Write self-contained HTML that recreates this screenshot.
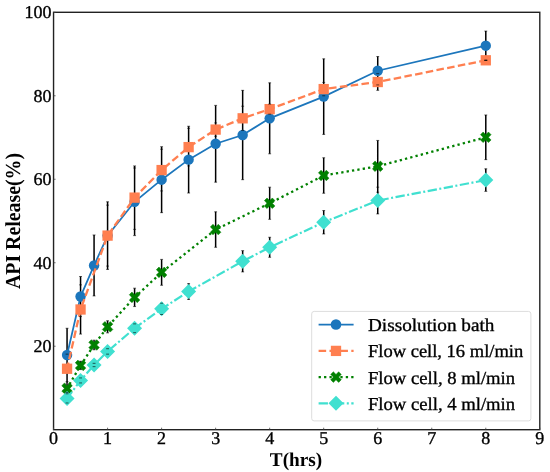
<!DOCTYPE html><html><head><meta charset="utf-8"><style>html,body{margin:0;padding:0;background:#fff;}svg{display:block;filter:blur(0.25px);}text{text-rendering:geometricPrecision;font-family:"Liberation Serif",serif;fill:#000;}.tl{stroke:#000;stroke-width:0.35px;}</style></head><body>
<svg width="550" height="472" viewBox="0 0 550 472">
<rect width="550" height="472" fill="#fff"/>
<path d="M67.06 381.7V328.27M80.56 316.58V276.51M94.07 295.92V234.98M107.58 269.42V201.8M134.59 235.61V167.99M161.61 212.65V146.7M188.62 193.03V126.25M215.64 182.18V105.38M242.66 179.68V90.35M269.67 153.8V82.84M323.7 134.39V58.84M377.73 84.93V56.54M485.79 60.3V31.08M67.06 383.37V354.15M80.56 334.12V284.86M107.58 266.08V205.14M134.59 229.35V165.9M161.61 190.95V149.21M188.62 165.9V128.34M215.64 136.27V122.91M242.66 130.42V106.21M269.67 114.15V104.13M323.7 95.78V82.42M377.73 90.35V73.66M485.79 60.3V60.3M67.06 392.55V384.2M80.56 369.59V361.25M94.07 349.77V340.17M107.58 332.86V320.76M134.59 306.57V288.2M161.61 285.28V259.4M215.64 247.3V211.82M269.67 219.33V187.19M323.7 193.24V157.76M377.73 192.2V140.44M485.79 159.64V114.98M67.06 402.99V393.8M80.56 382.95V377.94M94.07 366.67V363.33M107.58 354.15V348.72M134.59 332.65V323.89M161.61 314.5V303.23M188.62 299.47V283.61M242.66 271.92V250.64M269.67 257.31V237.28M323.7 233.94V210.56M377.73 213.9V187.19M485.79 191.36V168.82" stroke="#000" stroke-width="1.5" fill="none"/>
<polyline points="67.06,354.99 80.56,296.55 94.07,265.45 107.58,235.61 134.59,201.8 161.61,179.68 188.62,159.64 215.64,143.78 242.66,135.02 269.67,118.32 323.7,96.61 377.73,70.74 485.79,45.69" fill="none" stroke="#1c76bc" stroke-width="1.75"/>
<circle cx="67.06" cy="354.99" r="5.2" fill="#1c76bc"/>
<circle cx="80.56" cy="296.55" r="5.2" fill="#1c76bc"/>
<circle cx="94.07" cy="265.45" r="5.2" fill="#1c76bc"/>
<circle cx="107.58" cy="235.61" r="5.2" fill="#1c76bc"/>
<circle cx="134.59" cy="201.8" r="5.2" fill="#1c76bc"/>
<circle cx="161.61" cy="179.68" r="5.2" fill="#1c76bc"/>
<circle cx="188.62" cy="159.64" r="5.2" fill="#1c76bc"/>
<circle cx="215.64" cy="143.78" r="5.2" fill="#1c76bc"/>
<circle cx="242.66" cy="135.02" r="5.2" fill="#1c76bc"/>
<circle cx="269.67" cy="118.32" r="5.2" fill="#1c76bc"/>
<circle cx="323.7" cy="96.61" r="5.2" fill="#1c76bc"/>
<circle cx="377.73" cy="70.74" r="5.2" fill="#1c76bc"/>
<circle cx="485.79" cy="45.69" r="5.2" fill="#1c76bc"/>
<polyline points="67.06,368.76 80.56,309.49 107.58,235.61 134.59,197.63 161.61,170.08 188.62,147.12 215.64,129.59 242.66,118.32 269.67,109.14 323.7,89.1 377.73,82.01 485.79,60.3" fill="none" stroke="#ff7f50" stroke-width="2.3" stroke-dasharray="7.55 3.35" stroke-dashoffset="1.07"/>
<rect x="61.91" y="363.61" width="10.3" height="10.3" fill="#ff7f50"/>
<rect x="75.41" y="304.34" width="10.3" height="10.3" fill="#ff7f50"/>
<rect x="102.43" y="230.46" width="10.3" height="10.3" fill="#ff7f50"/>
<rect x="129.44" y="192.48" width="10.3" height="10.3" fill="#ff7f50"/>
<rect x="156.46" y="164.93" width="10.3" height="10.3" fill="#ff7f50"/>
<rect x="183.47" y="141.97" width="10.3" height="10.3" fill="#ff7f50"/>
<rect x="210.49" y="124.44" width="10.3" height="10.3" fill="#ff7f50"/>
<rect x="237.51" y="113.17" width="10.3" height="10.3" fill="#ff7f50"/>
<rect x="264.52" y="103.99" width="10.3" height="10.3" fill="#ff7f50"/>
<rect x="318.55" y="83.95" width="10.3" height="10.3" fill="#ff7f50"/>
<rect x="372.58" y="76.86" width="10.3" height="10.3" fill="#ff7f50"/>
<rect x="480.64" y="55.15" width="10.3" height="10.3" fill="#ff7f50"/>
<polyline points="67.06,388.38 80.56,365.42 94.07,344.97 107.58,326.81 134.59,297.38 161.61,272.34 215.64,229.56 269.67,203.26 323.7,175.5 377.73,166.32 485.79,137.31" fill="none" stroke="#008000" stroke-width="2.3" stroke-dasharray="2.3 3.135" stroke-dashoffset="0.6"/>
<path transform="translate(67.06 388.38)" d="M-2.65 -5.3L0 -2.65 2.65 -5.3 5.3 -2.65 2.65 0 5.3 2.65 2.65 5.3 0 2.65 -2.65 5.3 -5.3 2.65 -2.65 0 -5.3 -2.65Z" fill="#008000" stroke="#008000" stroke-width="0.5"/>
<path transform="translate(80.56 365.42)" d="M-2.65 -5.3L0 -2.65 2.65 -5.3 5.3 -2.65 2.65 0 5.3 2.65 2.65 5.3 0 2.65 -2.65 5.3 -5.3 2.65 -2.65 0 -5.3 -2.65Z" fill="#008000" stroke="#008000" stroke-width="0.5"/>
<path transform="translate(94.07 344.97)" d="M-2.65 -5.3L0 -2.65 2.65 -5.3 5.3 -2.65 2.65 0 5.3 2.65 2.65 5.3 0 2.65 -2.65 5.3 -5.3 2.65 -2.65 0 -5.3 -2.65Z" fill="#008000" stroke="#008000" stroke-width="0.5"/>
<path transform="translate(107.58 326.81)" d="M-2.65 -5.3L0 -2.65 2.65 -5.3 5.3 -2.65 2.65 0 5.3 2.65 2.65 5.3 0 2.65 -2.65 5.3 -5.3 2.65 -2.65 0 -5.3 -2.65Z" fill="#008000" stroke="#008000" stroke-width="0.5"/>
<path transform="translate(134.59 297.38)" d="M-2.65 -5.3L0 -2.65 2.65 -5.3 5.3 -2.65 2.65 0 5.3 2.65 2.65 5.3 0 2.65 -2.65 5.3 -5.3 2.65 -2.65 0 -5.3 -2.65Z" fill="#008000" stroke="#008000" stroke-width="0.5"/>
<path transform="translate(161.61 272.34)" d="M-2.65 -5.3L0 -2.65 2.65 -5.3 5.3 -2.65 2.65 0 5.3 2.65 2.65 5.3 0 2.65 -2.65 5.3 -5.3 2.65 -2.65 0 -5.3 -2.65Z" fill="#008000" stroke="#008000" stroke-width="0.5"/>
<path transform="translate(215.64 229.56)" d="M-2.65 -5.3L0 -2.65 2.65 -5.3 5.3 -2.65 2.65 0 5.3 2.65 2.65 5.3 0 2.65 -2.65 5.3 -5.3 2.65 -2.65 0 -5.3 -2.65Z" fill="#008000" stroke="#008000" stroke-width="0.5"/>
<path transform="translate(269.67 203.26)" d="M-2.65 -5.3L0 -2.65 2.65 -5.3 5.3 -2.65 2.65 0 5.3 2.65 2.65 5.3 0 2.65 -2.65 5.3 -5.3 2.65 -2.65 0 -5.3 -2.65Z" fill="#008000" stroke="#008000" stroke-width="0.5"/>
<path transform="translate(323.7 175.5)" d="M-2.65 -5.3L0 -2.65 2.65 -5.3 5.3 -2.65 2.65 0 5.3 2.65 2.65 5.3 0 2.65 -2.65 5.3 -5.3 2.65 -2.65 0 -5.3 -2.65Z" fill="#008000" stroke="#008000" stroke-width="0.5"/>
<path transform="translate(377.73 166.32)" d="M-2.65 -5.3L0 -2.65 2.65 -5.3 5.3 -2.65 2.65 0 5.3 2.65 2.65 5.3 0 2.65 -2.65 5.3 -5.3 2.65 -2.65 0 -5.3 -2.65Z" fill="#008000" stroke="#008000" stroke-width="0.5"/>
<path transform="translate(485.79 137.31)" d="M-2.65 -5.3L0 -2.65 2.65 -5.3 5.3 -2.65 2.65 0 5.3 2.65 2.65 5.3 0 2.65 -2.65 5.3 -5.3 2.65 -2.65 0 -5.3 -2.65Z" fill="#008000" stroke="#008000" stroke-width="0.5"/>
<polyline points="67.06,398.39 80.56,380.45 94.07,365 107.58,351.44 134.59,328.27 161.61,308.86 188.62,291.54 242.66,261.28 269.67,247.3 323.7,222.25 377.73,200.55 485.79,180.09" fill="none" stroke="#40e0d0" stroke-width="2.2" stroke-dasharray="9.35 2.5 2.0 2.5" stroke-dashoffset="1.09"/>
<path transform="translate(67.06 398.39)" d="M0 -7.5L7.5 0 0 7.5 -7.5 0Z" fill="#40e0d0"/>
<path transform="translate(80.56 380.45)" d="M0 -7.5L7.5 0 0 7.5 -7.5 0Z" fill="#40e0d0"/>
<path transform="translate(94.07 365)" d="M0 -7.5L7.5 0 0 7.5 -7.5 0Z" fill="#40e0d0"/>
<path transform="translate(107.58 351.44)" d="M0 -7.5L7.5 0 0 7.5 -7.5 0Z" fill="#40e0d0"/>
<path transform="translate(134.59 328.27)" d="M0 -7.5L7.5 0 0 7.5 -7.5 0Z" fill="#40e0d0"/>
<path transform="translate(161.61 308.86)" d="M0 -7.5L7.5 0 0 7.5 -7.5 0Z" fill="#40e0d0"/>
<path transform="translate(188.62 291.54)" d="M0 -7.5L7.5 0 0 7.5 -7.5 0Z" fill="#40e0d0"/>
<path transform="translate(242.66 261.28)" d="M0 -7.5L7.5 0 0 7.5 -7.5 0Z" fill="#40e0d0"/>
<path transform="translate(269.67 247.3)" d="M0 -7.5L7.5 0 0 7.5 -7.5 0Z" fill="#40e0d0"/>
<path transform="translate(323.7 222.25)" d="M0 -7.5L7.5 0 0 7.5 -7.5 0Z" fill="#40e0d0"/>
<path transform="translate(377.73 200.55)" d="M0 -7.5L7.5 0 0 7.5 -7.5 0Z" fill="#40e0d0"/>
<path transform="translate(485.79 180.09)" d="M0 -7.5L7.5 0 0 7.5 -7.5 0Z" fill="#40e0d0"/>
<path d="M65.61 381.7h2.9M65.61 328.27h2.9M79.11 316.58h2.9M79.11 276.51h2.9M92.62 295.92h2.9M92.62 234.98h2.9M106.13 269.42h2.9M106.13 201.8h2.9M133.15 235.61h2.9M133.15 167.99h2.9M160.16 212.65h2.9M160.16 146.7h2.9M187.18 193.03h2.9M187.18 126.25h2.9M214.19 182.18h2.9M214.19 105.38h2.9M241.21 179.68h2.9M241.21 90.35h2.9M268.22 153.8h2.9M268.22 82.84h2.9M322.25 134.39h2.9M322.25 58.84h2.9M376.28 84.93h2.9M376.28 56.54h2.9M484.34 60.3h2.9M484.34 31.08h2.9M65.61 383.37h2.9M65.61 354.15h2.9M79.11 334.12h2.9M79.11 284.86h2.9M106.13 266.08h2.9M106.13 205.14h2.9M133.15 229.35h2.9M133.15 165.9h2.9M160.16 190.95h2.9M160.16 149.21h2.9M187.18 165.9h2.9M187.18 128.34h2.9M214.19 136.27h2.9M214.19 122.91h2.9M241.21 130.42h2.9M241.21 106.21h2.9M268.22 114.15h2.9M268.22 104.13h2.9M322.25 95.78h2.9M322.25 82.42h2.9M376.28 90.35h2.9M376.28 73.66h2.9M484.34 60.3h2.9M484.34 60.3h2.9M65.61 392.55h2.9M65.61 384.2h2.9M79.11 369.59h2.9M79.11 361.25h2.9M92.62 349.77h2.9M92.62 340.17h2.9M106.13 332.86h2.9M106.13 320.76h2.9M133.15 306.57h2.9M133.15 288.2h2.9M160.16 285.28h2.9M160.16 259.4h2.9M214.19 247.3h2.9M214.19 211.82h2.9M268.22 219.33h2.9M268.22 187.19h2.9M322.25 193.24h2.9M322.25 157.76h2.9M376.28 192.2h2.9M376.28 140.44h2.9M484.34 159.64h2.9M484.34 114.98h2.9M65.61 402.99h2.9M65.61 393.8h2.9M79.11 382.95h2.9M79.11 377.94h2.9M92.62 366.67h2.9M92.62 363.33h2.9M106.13 354.15h2.9M106.13 348.72h2.9M133.15 332.65h2.9M133.15 323.89h2.9M160.16 314.5h2.9M160.16 303.23h2.9M187.18 299.47h2.9M187.18 283.61h2.9M241.21 271.92h2.9M241.21 250.64h2.9M268.22 257.31h2.9M268.22 237.28h2.9M322.25 233.94h2.9M322.25 210.56h2.9M376.28 213.9h2.9M376.28 187.19h2.9M484.34 191.36h2.9M484.34 168.82h2.9" stroke="#000" stroke-opacity="0.6" stroke-width="1.0" fill="none"/>
<rect x="53.55" y="12.3" width="486.25" height="417.4" fill="none" stroke="#222" stroke-width="1.4"/>
<path d="M53.55 429.7v-2M107.58 429.7v-2M161.61 429.7v-2M215.64 429.7v-2M269.67 429.7v-2M323.7 429.7v-2M377.73 429.7v-2M431.76 429.7v-2M485.79 429.7v-2M539.82 429.7v-2M53.55 346.22h2M53.55 262.74h2M53.55 179.26h2M53.55 95.78h2M53.55 12.3h2" stroke="#444" stroke-width="0.8"/>
<text font-size="18" transform="translate(53.55 444.2) scale(1 1)" text-anchor="middle" class="tl">0</text>
<text font-size="18" transform="translate(107.58 444.2) scale(1 1)" text-anchor="middle" class="tl">1</text>
<text font-size="18" transform="translate(161.61 444.2) scale(1 1)" text-anchor="middle" class="tl">2</text>
<text font-size="18" transform="translate(215.64 444.2) scale(1 1)" text-anchor="middle" class="tl">3</text>
<text font-size="18" transform="translate(269.67 444.2) scale(1 1)" text-anchor="middle" class="tl">4</text>
<text font-size="18" transform="translate(323.7 444.2) scale(1 1)" text-anchor="middle" class="tl">5</text>
<text font-size="18" transform="translate(377.73 444.2) scale(1 1)" text-anchor="middle" class="tl">6</text>
<text font-size="18" transform="translate(431.76 444.2) scale(1 1)" text-anchor="middle" class="tl">7</text>
<text font-size="18" transform="translate(485.79 444.2) scale(1 1)" text-anchor="middle" class="tl">8</text>
<text font-size="18" transform="translate(539.82 444.2) scale(1 1)" text-anchor="middle" class="tl">9</text>
<text font-size="18" transform="translate(51.4 352.32) scale(1 1)" text-anchor="end" class="tl">20</text>
<text font-size="18" transform="translate(51.4 268.84) scale(1 1)" text-anchor="end" class="tl">40</text>
<text font-size="18" transform="translate(51.4 185.36) scale(1 1)" text-anchor="end" class="tl">60</text>
<text font-size="18" transform="translate(51.4 101.88) scale(1 1)" text-anchor="end" class="tl">80</text>
<text font-size="18" transform="translate(51.4 18.4) scale(1 1)" text-anchor="end" class="tl">100</text>
<text x="296" y="466.2" font-size="19.6" font-weight="bold" text-anchor="middle" textLength="52.4" lengthAdjust="spacingAndGlyphs">T(hrs)</text>
<text transform="translate(20 221) rotate(-90)" font-size="21.3" font-weight="bold" text-anchor="middle" textLength="136" lengthAdjust="spacingAndGlyphs">API Release(%)</text>
<rect x="311.7" y="311.4" width="219.2" height="109.5" rx="2.5" fill="#fff" fill-opacity="0.8" stroke="#ddd" stroke-width="1"/>
<path d="M318.6 324.5H353.6" stroke="#1c76bc" stroke-width="1.75"/>
<circle cx="336.0" cy="324.5" r="5.3" fill="#1c76bc"/>
<path d="M318.6 350.9H353.6" stroke="#ff7f50" stroke-width="2.3" stroke-dasharray="7.55 3.35"/>
<rect x="330.85" y="345.75" width="10.3" height="10.3" fill="#ff7f50"/>
<path d="M318.6 377.1H353.6" stroke="#008000" stroke-width="2.3" stroke-dasharray="2.3 3.135"/>
<path transform="translate(336.0 377.1)" d="M-2.65 -5.3L0 -2.65 2.65 -5.3 5.3 -2.65 2.65 0 5.3 2.65 2.65 5.3 0 2.65 -2.65 5.3 -5.3 2.65 -2.65 0 -5.3 -2.65Z" fill="#008000" stroke="#008000" stroke-width="0.5"/>
<path d="M318.6 403.3H353.6" stroke="#40e0d0" stroke-width="2.2" stroke-dasharray="9.35 2.5 2.0 2.5"/>
<path transform="translate(336.0 403.3)" d="M0 -7.5L7.5 0 0 7.5 -7.5 0Z" fill="#40e0d0"/>
<text x="368" y="331.4" font-size="18.2" textLength="126.4" lengthAdjust="spacingAndGlyphs" class="tl">Dissolution bath</text>
<text x="368" y="357.4" font-size="18.2" textLength="155.2" lengthAdjust="spacingAndGlyphs" class="tl">Flow cell, 16 ml/min</text>
<text x="368" y="383.6" font-size="18.2" textLength="147.1" lengthAdjust="spacingAndGlyphs" class="tl">Flow cell, 8 ml/min</text>
<text x="368" y="409.6" font-size="18.2" textLength="147.1" lengthAdjust="spacingAndGlyphs" class="tl">Flow cell, 4 ml/min</text>
</svg></body></html>
